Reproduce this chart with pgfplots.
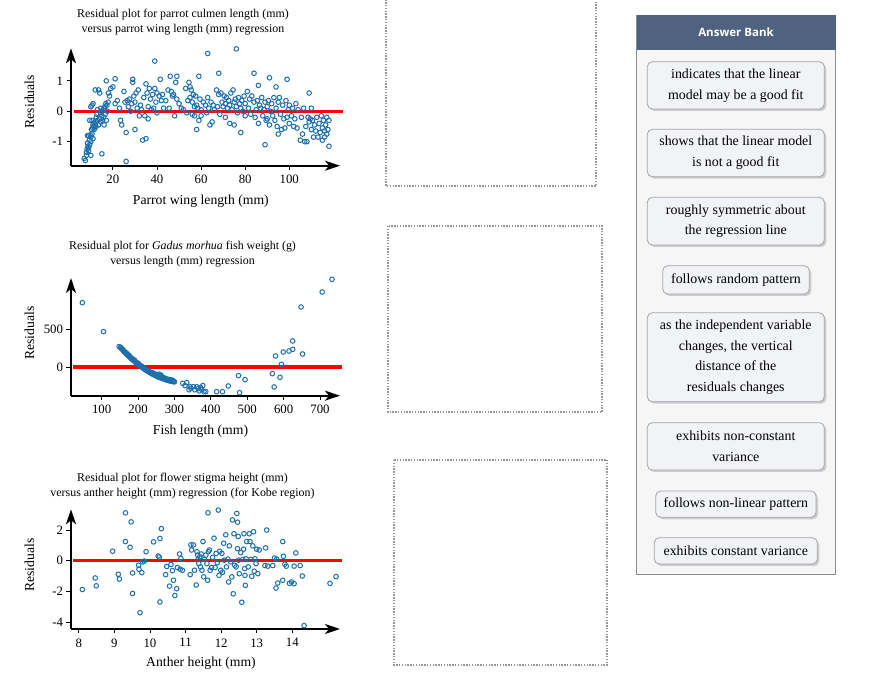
\documentclass[border=0pt]{standalone}
\usepackage{fontspec}
\setmainfont{Liberation Serif}
\newfontfamily\hdrfont{Open Sans}
\usepackage{pgfplots}
\pgfplotsset{compat=1.18}
\usetikzlibrary{arrows.meta}
\definecolor{ptblue}{RGB}{30,112,172}
\definecolor{hdr}{RGB}{79,99,129}
\definecolor{panelbg}{RGB}{246,246,247}
\definecolor{panelline}{RGB}{140,140,145}
\definecolor{btnbg}{RGB}{242,243,246}
\definecolor{btnline}{RGB}{165,165,170}
\definecolor{btnshadow}{RGB}{205,205,208}
\definecolor{dotbox}{RGB}{150,150,150}
\pgfplotsset{resid/.style={
 scale only axis, width=269pt, axis lines=left, enlargelimits=false, axis on top, clip=false,
 axis line style={line width=2pt},
 x axis line style={-{Stealth[length=15pt,width=10pt,inset=4pt]}},
 y axis line style={-{Stealth[length=15pt,width=10pt,inset=4pt]}},
 tick style={line width=0.8pt, black}, tick align=outside, major tick length=4.5pt,
 minor tick num=0,
 tick label style={font=\fontsize{12.8}{14}\selectfont},
 xticklabel style={yshift=-1.5pt},
 /pgf/number format/assume math mode=true,
 /pgf/number format/1000 sep={}
},
pts/.style={only marks, mark=o, mark size=2.3pt, ptblue, mark options={line width=1pt}},
zline/.style={red, line width=3.2pt, no marks}}
\newcommand{\btn}[5]{% x1 y1 x2 y2 text
 \fill[btnshadow, rounded corners=5pt] ({#1+2},{#2-2}) rectangle ({#3+2},{#4-2});
 \filldraw[fill=btnbg, draw=btnline, line width=0.8pt, rounded corners=5pt] (#1,#2) rectangle (#3,#4);
 \node[align=center, font=\fontsize{13.9}{20.8}\selectfont, inner sep=0pt] at ({(#1+#3)/2},{(#2+#4)/2}) {#5};}
\begin{document}
\begin{tikzpicture}[x=1pt,y=1pt]
\useasboundingbox (0,0) rectangle (879,696);
\fill[white] (0,0) rectangle (879,696);
% dotted answer boxes
\draw[dotbox, line width=1.3pt, dash pattern=on 1.4pt off 1.4pt] (386,705) -- (386,510) -- (596,510) -- (596,705);
\draw[dotbox, line width=1.3pt, dash pattern=on 1.4pt off 1.4pt] (388,470) rectangle (602,284);
\draw[dotbox, line width=1.3pt, dash pattern=on 1.4pt off 1.4pt] (394,236) rectangle (607,31);
% answer bank
\filldraw[fill=panelbg, draw=panelline, line width=0.9pt] (636.5,681) rectangle (835.5,122);
\fill[hdr] (636.5,681) rectangle (835.5,646);
\node[text=white, font=\hdrfont\bfseries\fontsize{11.5}{13}\selectfont] at (736,663.5) {Answer Bank};
\btn{647.3}{634.3}{824.3}{587}{indicates that the linear\\model may be a good fit}
\btn{647.3}{566.7}{824.3}{519.3}{shows that the linear model\\is not a good fit}
\btn{647.3}{498.7}{824.3}{451}{roughly symmetric about\\the regression line}
\btn{662.7}{430.3}{809.3}{402}{follows random pattern}
\btn{647.3}{383.3}{824.3}{294.3}{as the independent variable\\changes, the vertical\\distance of the\\residuals changes}
\btn{647.3}{273.3}{824.3}{226}{exhibits non-constant\\variance}
\btn{655.7}{205}{816}{178.7}{follows non-linear pattern}
\btn{654.3}{158.3}{817.3}{132}{exhibits constant variance}
% titles and labels
\node[align=center, font=\fontsize{11.9}{14.8}\selectfont] at (183,673.8) {Residual plot for parrot culmen length (mm)\\versus parrot wing length (mm) regression};
\node[align=center, font=\fontsize{11.9}{14.8}\selectfont] at (182.5,442.2) {Residual plot for \textit{Gadus morhua} fish weight (g)\\versus length (mm) regression};
\node[align=center, font=\fontsize{11.9}{14.8}\selectfont] at (182.5,210.2) {Residual plot for flower stigma height (mm)\\versus anther height (mm) regression (for Kobe region)};
\node[rotate=90, font=\fontsize{13.7}{16}\selectfont] at (29.5,594.3) {Residuals};
\node[rotate=90, font=\fontsize{13.7}{16}\selectfont] at (29.5,362.7) {Residuals};
\node[rotate=90, font=\fontsize{13.7}{16}\selectfont] at (29.5,130.7) {Residuals};
\node[font=\fontsize{13.7}{16}\selectfont] at (200.8,494.3) {Parrot wing length (mm)};
\node[font=\fontsize{13.7}{16}\selectfont] at (200.5,264.3) {Fish length (mm)};
\node[font=\fontsize{13.7}{16}\selectfont] at (201,33) {Anther height (mm)};
% plot 1
\begin{axis}[resid, at={(71pt,530.3pt)}, anchor=south west, height=117.4pt,
 xmin=1, xmax=123, ymin=-1.79, ymax=2.07, xtick={20,40,60,80,100}, ytick={-1,0,1}]
\addplot[pts] coordinates {
(7,-1.55)(7.5,-1.62)(8,-1.35)(8,-1.45)(8.3,-1.25)(8.5,-1.05)(8.7,-1.15)(9,-0.8)(9,-1.3)(9.3,-0.95)(9.5,-1.1)(9.7,-0.78)(10,-0.85)(10,-1.0)(10.3,-0.6)(10.5,-0.75)(10.5,-0.3)(10.8,-0.55)(11,-0.45)(11,-0.9)(11.3,-0.5)(11.5,-0.4)(11.5,-0.6)(11.8,-0.55)(12,-0.35)(12,-0.45)(12.3,-0.5)(12,0.7)(10,0.15)(10.5,0.2)(11,0.25)(9.5,-0.3)(8.5,-0.8)(9,-1.2)(10,-1.45)
(12.5,-0.2)(12.8,-0.1)(13,-0.3)(13,0.05)(13.5,0.7)(13.5,-0.45)(14,0.6)(14,-0.25)(14.3,-0.05)(14.5,0.1)(14.5,-0.35)(15,-1.4)(15,0.0)(15,-0.15)(15.3,-0.3)(15.5,0.05)(15.8,-0.2)(16,0.1)(16,-0.45)(16.3,0.15)(16.5,-0.1)(16.8,0.25)(17,1.0)(17,-0.3)(17.3,0.2)(17.5,0.0)(17.8,0.3)(18,0.6)(18.5,0.5)(19,0.75)
(20,0.8)(21,1.07)(21,0.25)(22,0.35)(23,0.1)(23.5,-0.3)(24,-0.45)(25,0.65)(25.5,0.3)(26,-0.7)(26,-1.65)(26.5,0.35)(27,0.15)(27.5,0.4)(28,0.0)(28.5,0.25)(29,1.05)(29,0.95)(29.5,0.5)(30,0.3)(30,-0.6)(30.5,0.6)(31,0.1)(31.5,0.7)(32,-0.15)(32.5,0.2)(33,0.05)(33.5,-0.95)(34,0.45)(34.5,-0.15)(35,0.9)(35,-0.9)(35.5,0.6)(36,0.15)(36,-0.25)(36.5,0.75)(37,0.4)(37.5,0.05)(38,0.55)(38.5,0.1)(39,1.65)(39,0.75)(39.5,0.3)(40,0.6)(40,-0.05)
(41,0.5)(41.5,1.05)(42,0.35)(42.5,0.55)(43,0.1)(44,0.35)(45,0.7)(45.5,0.1)(46,1.15)(46.5,0.65)(47,0.5)(47.5,0.55)(48,-0.15)(48.5,0.95)(49,1.15)(49,0.4)(50,0.25)(51,0.1)(52,0.05)(53,0.75)(53.5,-0.05)(54,0.35)(54.5,0.95)(55,0.45)(55,0.8)(55.5,0.7)(56,0.3)(56,-0.1)(56.5,0.55)(57,-0.15)(57,0.15)(57.5,0.5)(58,-0.6)(58,0.2)(58.5,0.1)(59,1.15)(59,-0.3)(59.5,0.4)(60,0.05)(60,-0.15)
(61,0.3)(62,0.2)(62.5,-0.05)(63,1.9)(63,0.45)(63.5,0.1)(64,-0.45)(64.5,0.3)(65,-0.35)(65.5,0.2)(66,0.05)(67,0.7)(67.5,0.15)(68,1.25)(68,0.55)(68.5,-0.1)(69,0.6)(69.5,0.3)(70,0.15)(70.5,0.5)(71,-0.2)(71,0.25)(71.5,0.45)(72,0.1)(72.5,0.35)(73,-0.4)(73,0.2)(73.5,0.6)(74,0.05)(74.5,0.7)(75,-0.45)(75,0.3)(75.5,0.4)(76,2.05)(76,0.15)(76.5,-0.05)(77,0.45)(77.5,0.25)(78,-0.7)(78,0.1)(78.5,0.35)(79,0.0)(79.5,0.5)(80,0.25)(80,-0.15)
(81,0.65)(81.5,0.1)(82,0.4)(82.5,-0.1)(83,0.5)(84,1.25)(84,0.3)(84.5,-0.2)(85,0.05)(85.5,0.35)(86,0.85)(86,-0.4)(86.5,0.2)(87,0.1)(87.5,0.45)(88,-0.15)(88.5,0.05)(89,-1.1)(89,0.3)(89.5,-0.3)(90,0.15)(90,-0.25)(90.5,0.35)(91,1.1)(91,-0.45)(91.5,0.0)(92,0.25)(92.5,-0.15)(93,0.45)(93.5,-0.3)(94,0.8)(94,0.1)(94.5,-0.5)(95,-0.75)(95,0.3)(95.5,0.45)(96,-0.1)(96.5,-0.6)(97,0.2)(97.5,-0.25)(98,-0.55)(98.5,0.35)(99,1.05)(99,-0.2)(99.5,0.05)(100,-0.4)(100,0.2)
(101,-0.15)(101.5,0.1)(102,-0.5)(102.5,-0.25)(103,0.25)(103.5,-0.55)(104,0.05)(105,-0.95)(105.5,-0.2)(106,-0.75)(106.5,0.1)(107,-1.0)(107.5,-0.5)(108,-1.0)(108.5,-0.2)(109,0.6)(109,-0.35)(109.5,-0.25)(110,0.1)(110,-0.6)(110.5,-0.3)(111,-0.85)(111.5,-0.45)(112,-0.65)(112.5,-0.2)(113,-0.85)(113.5,-0.4)(114,-0.7)(114.5,-0.15)(115,-0.55)(115,-0.95)(115.5,-0.3)(116,-0.65)(116,-0.85)(116.5,-0.45)(117,-0.2)(117,-0.75)(117.5,-0.6)(118,-1.15)(118,-0.3)
};
\addplot[zline] coordinates {(2.3,0)(124.3,0)};
\end{axis}
% plot 2
\begin{axis}[resid, at={(71pt,300.3pt)}, anchor=south west, height=117.7pt,
 xmin=15.7, xmax=755, ymin=-378, ymax=1171, xtick={100,200,300,400,500,600,700}, ytick={0,500}]
\addplot[pts] coordinates {
(47,846)(105,465)(148,268)
(152,258)(153,250)(155,240)(157,232)(158,225)(160,215)(161,210)(162,202)(164,196)(165,190)(167,182)(168,176)(170,166)(171,160)(172,156)(174,148)(175,142)(177,136)(178,128)(180,120)(181,116)(182,110)(183,106)(185,98)(186,94)(188,86)(189,82)(190,77)(192,70)(193,65)(195,57)(196,53)(198,46)(199,42)(200,37)(202,30)(203,26)(205,19)(206,14)(208,8)(209,4)(210,0)(212,-6)(213,-10)(215,-17)(216,-20)(218,-26)(219,-30)(220,-34)(222,-40)(223,-43)(225,-49)(226,-52)(228,-57)(229,-60)(230,-64)(232,-70)(233,-73)(235,-78)(237,-84)(238,-87)(240,-92)(242,-97)(243,-100)(245,-104)(247,-109)(248,-112)(250,-117)(252,-120)(253,-123)(255,-128)(257,-131)(258,-134)(260,-138)(262,-141)(265,-148)(268,-152)(270,-157)(273,-161)(275,-165)(278,-170)(280,-173)(283,-177)(285,-179)(288,-183)(290,-185)(293,-188)(295,-191)(298,-193)(300,-195)
(240,-75)(245,-90)(250,-100)(255,-112)(260,-120)(262,-105)(265,-125)(270,-140)(275,-150)(280,-160)(285,-165)(290,-170)(295,-175)(258,-95)(230,-55)(200,50)(190,90)(170,175)(175,150)(185,105)(210,10)(220,-25)(235,-70)
(323,-215)(329,-245)(334,-205)(340,-300)(343,-260)(352,-260)(356,-300)(361,-260)(368,-315)(375,-295)(378,-245)(381,-325)(386,-325)(345,-280)(365,-285)(372,-270)
(416,-325)(432,-325)(448,-250)(476,-114)(479,-338)(494,-167)
(569,-88)(574,-263)(578,145)(590,-136)(594,35)(599,197)(615,210)(625,232)(625,342)(648,789)(652,171)(706,987)(733,1154)
};
\addplot[zline] coordinates {(20,0)(761,0)};
\end{axis}
% plot 3
\begin{axis}[resid, at={(71pt,67pt)}, anchor=south west, height=119.7pt,
 xmin=7.78, xmax=15.34, ymin=-4.44, ymax=3.35, xtick={8,9,10,11,12,13,14}, ytick={-4,-2,0,2}]
\addplot[pts] coordinates {
(8.10,-1.87)(8.46,-1.12)(8.49,-1.63)(8.95,0.62)(9.11,-0.88)(9.14,-1.19)(9.31,3.12)(9.31,1.25)(9.44,0.88)(9.47,2.53)(9.51,-0.79)(9.51,-2.13)(9.68,-0.29)(9.69,-0.55)(9.72,-3.38)(9.77,-0.77)(9.80,-0.07)(9.84,-0.02)(9.89,0.59)
(10.10,1.23)(10.23,0.31)(10.26,0.24)(10.28,1.45)(10.28,-2.68)(10.32,2.09)(10.44,-0.90)(10.47,-0.37)(10.55,-1.65)(10.59,-0.24)(10.63,-0.64)(10.66,-1.27)(10.70,-2.26)(10.75,-1.82)(10.77,-0.44)(10.83,0.44)(10.85,-0.55)(10.87,0.15)(10.91,-0.62)
(11.13,-0.90)(11.15,1.03)(11.17,0.70)(11.22,1.03)(11.25,-0.62)(11.30,-1.58)(11.32,0.59)(11.34,0.37)(11.35,0.09)(11.37,-0.18)(11.40,0.26)(11.42,-0.40)(11.44,0.44)(11.46,-0.62)(11.49,1.25)(11.51,-1.05)(11.53,0.09)(11.57,0.37)(11.60,-0.18)(11.62,-1.27)(11.63,3.12)(11.64,0.59)(11.67,0.70)(11.69,-0.62)(11.73,-0.44)(11.76,0.22)(11.80,1.47)(11.83,-0.44)(11.86,0.48)(11.89,-0.13)(11.92,3.30)(11.94,-0.95)(11.96,0.62)(11.99,-0.62)
(12.02,0.48)(12.04,-0.75)(12.07,1.14)(12.09,0.04)(12.13,1.69)(12.15,-0.40)(12.19,0.11)(12.21,-1.38)(12.23,0.97)(12.27,-0.07)(12.30,-1.05)(12.32,2.66)(12.34,-2.15)(12.36,1.76)(12.38,-0.29)(12.42,-0.40)(12.44,3.08)(12.46,2.51)(12.46,0.79)(12.48,1.58)(12.49,0.04)(12.51,-0.84)(12.55,0.53)(12.58,-2.70)(12.61,0.09)(12.63,0.75)(12.64,1.76)(12.66,-0.51)(12.67,-0.95)(12.68,-1.60)(12.70,0.13)(12.72,1.25)(12.76,-0.40)(12.79,1.76)(12.81,1.25)(12.83,0.09)(12.86,-1.01)(12.89,0.97)(12.91,1.89)(12.93,-0.68)(12.95,0.13)(12.98,-0.18)
(13.00,0.75)(13.03,-0.84)(13.07,0.70)(13.23,-0.31)(13.25,0.84)(13.28,2.00)(13.31,-0.35)(13.45,-0.31)(13.50,0.18)(13.54,-1.78)(13.56,0.11)(13.59,-1.45)(13.73,1.25)(13.73,-1.27)(13.75,0.29)(13.79,-0.22)(13.83,-0.35)(13.92,-1.47)(13.98,-1.38)
(14.05,-1.49)(14.05,-0.35)(14.10,0.51)(14.22,-0.31)(14.28,-0.99)(14.33,-4.22)(15.06,-1.47)(15.23,-1.03)
};
\addplot[zline] coordinates {(7.85,0)(15.4,0)};
\end{axis}
\end{tikzpicture}
\end{document}
